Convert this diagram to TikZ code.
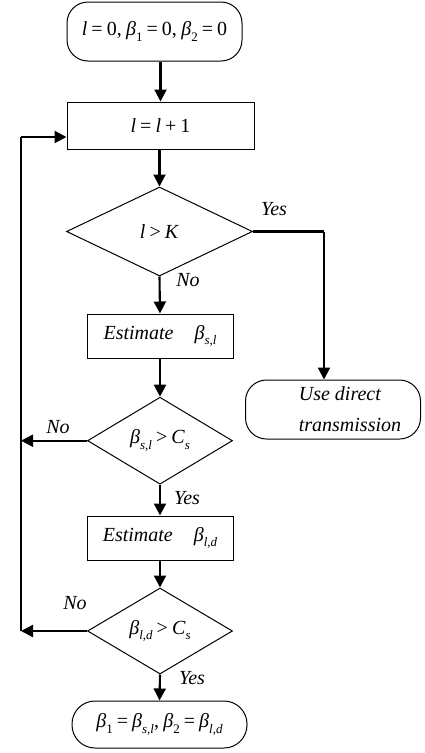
\documentclass[tikz,border=0pt]{standalone}
\usepackage{fontspec}
\setmainfont{Liberation Serif}
\usetikzlibrary{shapes.geometric,arrows.meta}
\newcommand{\mysb}[1]{\raisebox{-0.28em}{\fontsize{13}{13}\selectfont #1}}
\newcommand{\iv}[1]{\textit{#1}}
\newcommand{\rl}[1]{\hspace{0.2em}#1\hspace{0.2em}}
\newcommand{\bsl}{\iv{β}\mysb{\iv{s},\iv{l}}}
\newcommand{\bld}{\iv{β}\mysb{\iv{l},\iv{d}}}
\begin{document}
\begin{tikzpicture}[x=1pt,y=-1pt,font=\fontsize{20}{24}\selectfont,
  boxst/.style={draw,line width=1pt,inner sep=0pt},
  term/.style={boxst,rounded corners=21pt},
  dec/.style={boxst,diamond},
  lab/.style={font=\fontsize{20}{24}\selectfont\itshape,inner sep=0pt},
  arr/.style={line width=2.1pt,-{Triangle[length=12pt,width=12pt]}},
  loopline/.style={line width=1.2pt}]
\useasboundingbox (0,0) rectangle (425,753);
\node[term,minimum width=175pt,minimum height=59pt] (start) at (154.5,31.5)
  {\iv{l}\rl{=}0,\hspace{0.22em}\iv{β}\mysb{1}\rl{=}0,\hspace{0.22em}\iv{β}\mysb{2}\rl{=}0};
\node[boxst,minimum width=187pt,minimum height=47pt] (inc) at (160.5,125.5)
  {\iv{l}\rl{=}\iv{l}\rl{+}1};
\node[dec,minimum width=186pt,minimum height=89pt] (d1) at (159.5,231.5)
  {\iv{l}\rl{>}\iv{K}};
\node[boxst,minimum width=146pt,minimum height=44pt] (e1) at (160,336)
  {\iv{Estimate}\hspace{21pt}\bsl};
\node[dec,minimum width=145pt,minimum height=87pt] (d2) at (160,440.7)
  {\bsl\rl{>}\iv{C}\mysb{\iv{s}}};
\node[boxst,minimum width=146pt,minimum height=44pt] (e2) at (160,538)
  {\iv{Estimate}\hspace{21pt}\bld};
\node[dec,minimum width=145pt,minimum height=86pt] (d3) at (160,631)
  {\bld\rl{>}\iv{C}\mysb{\iv{s}}};
\node[term,minimum width=175pt,minimum height=47pt,rounded corners=23pt] (stop) at (159.5,724.5)
  {\iv{β}\mysb{1}\rl{=}\bsl,\hspace{0.22em}\iv{β}\mysb{2}\rl{=}\bld};
\node[term,minimum width=175pt,minimum height=59pt,align=left,font=\fontsize{20}{31}\selectfont\itshape] (direct) at (333,409.5)
  {\hspace*{34pt}Use direct\\\hspace*{34pt}transmission};
% connectors
\draw[arr] (start.south -| inc.north) -- (inc.north);
\draw[arr] (inc.south -| d1.north) -- (d1.north);
\draw[arr] (d1.south) -- (e1.north);
\draw[arr] (e1.south) -- (d2.north);
\draw[arr] (d2.south) -- (e2.north);
\draw[arr] (e2.south) -- (d3.north);
\draw[arr] (d3.south) -- (stop.north);
\coordinate (rc) at (324,231.5);
\draw[line width=2.1pt] (d1.east) -- (rc);
\draw[arr] (rc) -- (rc |- direct.north);
\coordinate (lb) at (21,631);
\coordinate (lt) at (21,137);
\draw[arr] (d2.west) -- (d2.west -| lb);
\draw[arr] (d3.west) -- (lb);
\draw[loopline] (lb) -- (lt);
\draw[arr] (lt) -- (lt -| inc.west);
% labels
\node[lab] (y1) at (274,209) {Yes};
\node[lab] (n1) at (188,280) {No};
\node[lab] (n2) at (58,427) {No};
\node[lab] (y2) at (187,498) {Yes};
\node[lab] (n3) at (75,603) {No};
\node[lab] (y3) at (192,678) {Yes};
\end{tikzpicture}
\end{document}
